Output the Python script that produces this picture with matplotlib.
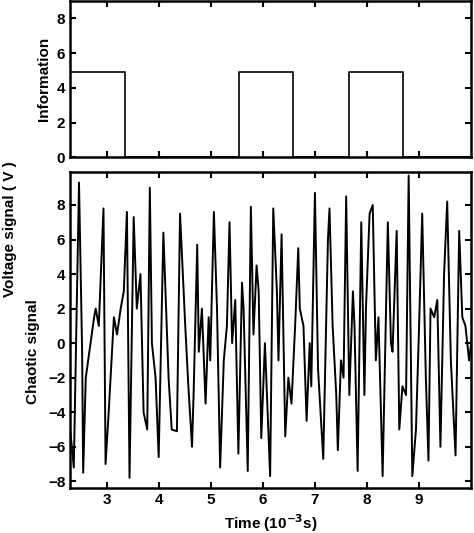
import matplotlib
matplotlib.use("Agg")
import matplotlib.pyplot as plt

plt.rcParams['font.family'] = ['Liberation Sans', 'DejaVu Sans']
plt.rcParams['font.weight'] = 'bold'

# information (square pulses)
info_t = [2.3, 3.36, 5.55, 6.58, 7.65, 8.7, 10.0]
info_v = [4.9, 0, 4.9, 0, 4.9, 0, 0]

# chaotic signal, read peak by peak from the picture
sig_t = [2.30, 2.37, 2.47, 2.53, 2.55, 2.60, 2.76, 2.79, 2.85, 2.94, 2.98, 3.04,
         3.14, 3.20, 3.27, 3.33, 3.39, 3.44, 3.52, 3.58, 3.65, 3.71, 3.78, 3.83,
         3.87, 3.94, 4.00, 4.09, 4.19, 4.25, 4.35, 4.41, 4.51, 4.57, 4.64,
         4.67, 4.74, 4.77, 4.83, 4.90, 4.96, 4.99, 5.06, 5.12, 5.18, 5.25, 5.31,
         5.36, 5.41, 5.47, 5.53, 5.60, 5.63, 5.71, 5.77, 5.82, 5.88, 5.92, 5.97,
         6.04, 6.14, 6.20, 6.27, 6.30, 6.36, 6.43, 6.49, 6.55, 6.62, 6.68, 6.71,
         6.78, 6.84, 6.90, 6.93, 7.00, 7.06, 7.16, 7.25,
         7.28, 7.34, 7.41, 7.44, 7.50, 7.55, 7.60, 7.66, 7.73, 7.76, 7.82, 7.89,
         7.95, 7.98, 8.05, 8.11, 8.17, 8.22, 8.30, 8.40, 8.46, 8.49, 8.57, 8.62,
         8.68, 8.75, 8.80, 8.87, 8.94, 9.00, 9.06, 9.13, 9.18, 9.22, 9.29, 9.35,
         9.41, 9.48, 9.54, 9.61, 9.70, 9.77, 9.83, 9.89, 9.96, 10.02]
sig_v = [-5.0, -7.2, 9.3, -0.5, -7.5, -2.0, 1.5, 2.0, 1.0, 7.8, -7.0, -4.0,
         1.5, 0.5, 2.0, 3.0, 7.6, -7.8, 7.3, 2.0, 4.0, -4.0, -5.0, 9.0,
         0.0, -2.0, -6.6, 6.4, -2.0, -5.0, -5.1, 7.5, 1.0, -2.5, -6.0,
         -3.0, 5.7, -0.5, 2.0, -3.5, 1.5, -1.0, 7.6, 2.0, -7.2, -1.0, 1.0,
         7.0, 0.0, 2.5, -6.4, 3.5, 2.0, -7.4, 7.9, 0.5, 4.5, 3.0, -5.5,
         0.0, -7.7, 7.8, 3.0, -1.0, 6.3, -5.4, -2.0, -3.5, 1.0, 5.5, 2.0,
         1.0, -4.5, 0.0, -2.5, 8.7, -1.5, -6.7, 6.0,
         7.8, 1.0, -3.0, -6.2, -1.0, -2.0, 8.5, -3.0, 3.0, 1.0, -7.4, 7.0,
         -3.0, 2.0, 7.5, 8.0, -1.0, 1.5, -7.7, 7.0, 0.0, -0.5, 6.5, -5.0,
         -2.5, -3.0, 9.7, -7.7, -5.0, 1.0, 7.5, -2.0, -6.8, 2.0, 1.5, 2.5,
         -6.0, 4.0, 8.2, -1.0, -6.5, 6.5, 1.5, 1.0, -1.0, 0.5]

x_ticks = [3, 4, 5, 6, 7, 8, 9]

fig = plt.figure(figsize=(4.74, 5.33), dpi=100)
ax1 = fig.add_axes([0.148, 0.705, 0.846, 0.293])
ax2 = fig.add_axes([0.148, 0.084, 0.846, 0.593])

ax1.plot(info_t, info_v, drawstyle='steps-post', color='black', lw=1.2)
ax1.set_xlim(2.3, 10.0)
ax1.set_ylim(0, 9)
ax1.set_yticks([0, 2, 4, 6, 8])
ax1.set_xticks(x_ticks)
ax1.set_xticklabels([])
ax1.set_ylabel('Information', fontsize=11, fontweight='bold')

ax2.plot(sig_t, sig_v, color='black', lw=1.4)
ax2.set_xlim(2.3, 10.0)
ax2.set_ylim(-8.4, 9.9)
ax2.set_yticks(range(-8, 9, 2))
ax2.set_xticks(x_ticks)
ax2.set_xlabel('Time (10$^{\\mathbf{-3}}$s)', fontsize=11, fontweight='bold')

for ax in (ax1, ax2):
    ax.tick_params(direction='in', top=True, right=True, labelsize=11, width=1.5, length=4)
    for s in ax.spines.values():
        s.set_linewidth(1.8)

fig.text(0.022, 0.57, 'Voltage signal ( V )', rotation=90, ha='center', va='center',
         fontsize=11, fontweight='bold')
fig.text(0.07, 0.34, 'Chaotic signal', rotation=90, ha='center', va='center',
         fontsize=11, fontweight='bold')

fig.savefig('out.png')
